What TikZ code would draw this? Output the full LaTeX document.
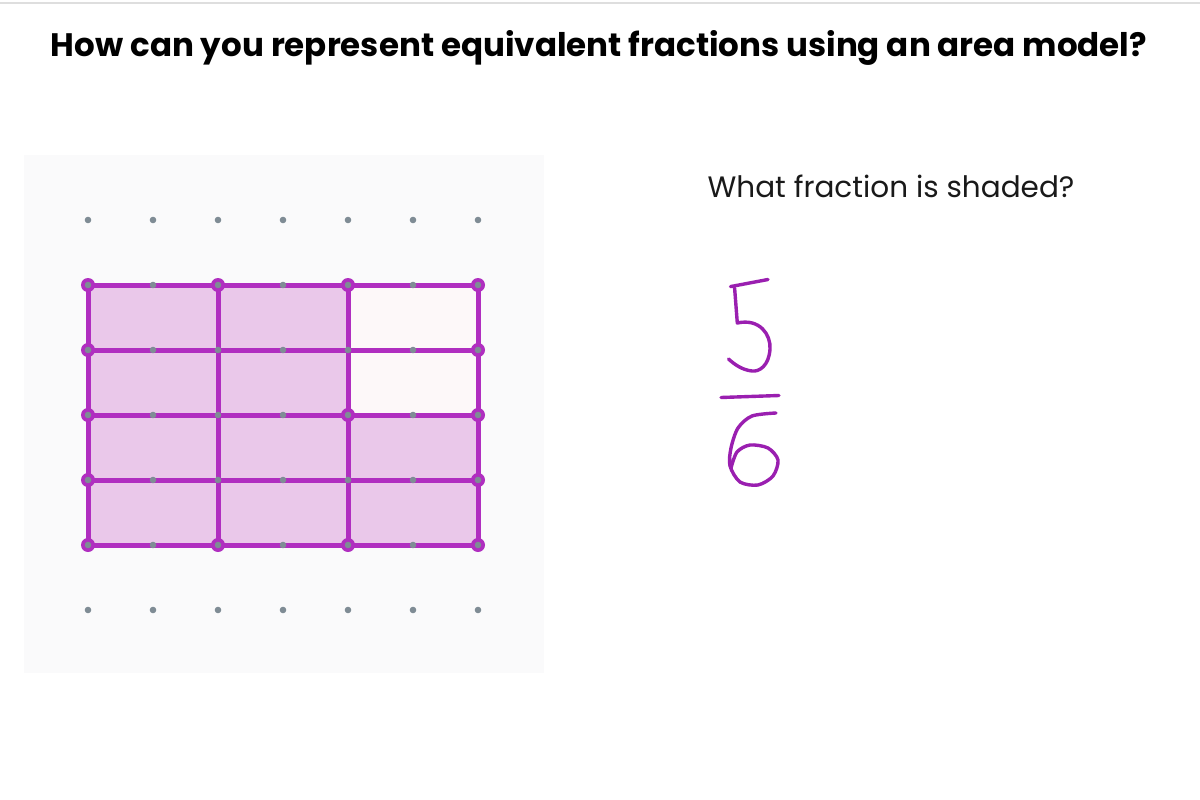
\documentclass[tikz,border=0pt]{standalone}
\usepackage{fontspec}
\setmainfont{Poppins}
\definecolor{gridpurple}{HTML}{B02EC0}
\definecolor{cellfill}{HTML}{EAC8EA}
\definecolor{cellblank}{HTML}{FDF8F9}
\definecolor{dotgray}{HTML}{7F8C95}
\definecolor{panelbg}{HTML}{FAFAFB}
\definecolor{inkpurple}{HTML}{9A1FB0}
\tikzset{
  gridline/.style={draw=gridpurple, line width=5pt, line cap=round},
  griddot/.style={fill=dotgray},
  vertexring/.style={fill=gridpurple},
  handink/.style={draw=inkpurple, line width=3.4pt, line cap=round, line join=round},
}

\begin{document}
\begin{tikzpicture}[x=1pt,y=-1pt]
    \useasboundingbox (0,0) rectangle (1200,800);
    \fill[white] (0,0) rectangle (1200,800);
    \draw[black!13, line width=2pt] (0,3) -- (1200,3);

    \node[font=\bfseries\fontsize{32.5}{36}\selectfont, text=black] (title) at (599,48)
        {How can you represent equivalent fractions using an area model?};
    \node[font=\fontsize{29.5}{33}\selectfont, text=black!90] (question) at (891,186)
        {What fraction is shaded?};

    % panel with the area model
    \fill[panelbg] (24,155) rectangle (544,673);
    \foreach \c in {0,1,2}
        \foreach \r in {0,...,3}
            \fill[cellfill] (88+130*\c,285+65*\r) rectangle (218+130*\c,350+65*\r);
    \fill[cellblank] (348,285) rectangle (478,415);

    \draw[gridline] (88,285) rectangle (478,545);
    \foreach \y in {350,415,480}
        \draw[gridline] (88,\y) -- (478,\y);
    \foreach \x in {218,348}
        \draw[gridline] (\x,285) -- (\x,545);

    \foreach \p in {(88,285),(218,285),(348,285),(478,285),
                    (88,350),(478,350),(88,415),(348,415),(478,415),
                    (88,480),(478,480),
                    (88,545),(218,545),(348,545),(478,545)}
        \fill[vertexring] \p circle (7);

    \foreach \i in {0,...,6}
        \foreach \j in {0,...,6}
            \fill[griddot] (88+65*\i,220+65*\j) circle (3.3);

    % handwritten 5/6
    \draw[handink] (730.5,286.6) -- (768,279.5);
    \draw[handink] (734.6,288) -- (737.3,323)
        .. controls (760,318) and (771,335) .. (770,349)
        .. controls (769,366) and (759,372) .. (752,371)
        .. controls (742,370) and (734,364) .. (728.5,359);
    \draw[handink] (721,397.5) -- (779,395.5);
    \draw[handink] plot[smooth] coordinates {(776,413) (752,416) (738,428) (731,448)
        (730,466) (740,482) (758,485) (773,476) (778,460) (768,448) (750,445)
        (737,452) (731,468)};
\end{tikzpicture}
\end{document}
